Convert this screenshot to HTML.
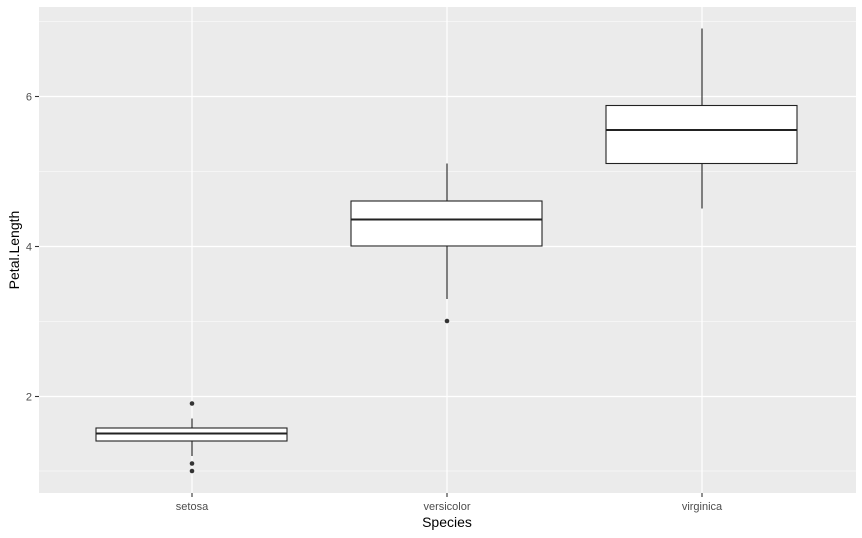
<!DOCTYPE html>
<html><head><style>body{margin:0;background:#fff}svg{display:block}</style></head><body>
<svg width="862" height="538" xmlns="http://www.w3.org/2000/svg" font-family="Liberation Sans, sans-serif">
<rect x="39" y="7" width="817" height="486" fill="#ebebeb"/>
<g stroke="#fff" stroke-width="0.6">
<line x1="39" x2="856" y1="471" y2="471"/><line x1="39" x2="856" y1="321.5" y2="321.5"/><line x1="39" x2="856" y1="171.5" y2="171.5"/><line x1="39" x2="856" y1="21.5" y2="21.5"/>
</g>
<g stroke="#fff" stroke-width="1.2">
<line x1="39" x2="856" y1="396.5" y2="396.5"/><line x1="39" x2="856" y1="246.5" y2="246.5"/><line x1="39" x2="856" y1="96.5" y2="96.5"/>
<line x1="192" x2="192" y1="7" y2="493"/><line x1="447" x2="447" y1="7" y2="493"/><line x1="702" x2="702" y1="7" y2="493"/>
</g>
<g stroke="#222" stroke-width="1.1" fill="#fff">
<line x1="192" x2="192" y1="418.5" y2="456"/>
<rect x="96" y="428" width="191" height="13"/>
<line x1="96" x2="287" y1="433.5" y2="433.5" stroke-width="2"/>
<line x1="447" x2="447" y1="163.5" y2="299"/>
<rect x="351" y="201" width="191" height="45"/>
<line x1="351" x2="542" y1="219.5" y2="219.5" stroke-width="2"/>
<line x1="702" x2="702" y1="28.5" y2="208.5"/>
<rect x="606" y="105.5" width="191" height="58"/>
<line x1="606" x2="797" y1="130" y2="130" stroke-width="2"/>
</g>
<g fill="#333"><circle cx="192" cy="403.5" r="2.3"/><circle cx="192" cy="463.5" r="2.3"/><circle cx="192" cy="471" r="2.3"/><circle cx="447" cy="321" r="2.3"/></g>
<g stroke="#333" stroke-width="1.1">
<line x1="35" x2="39" y1="396.5" y2="396.5"/><line x1="35" x2="39" y1="246.5" y2="246.5"/><line x1="35" x2="39" y1="96.5" y2="96.5"/>
<line x1="192" x2="192" y1="493" y2="497"/><line x1="447" x2="447" y1="493" y2="497"/><line x1="702" x2="702" y1="493" y2="497"/>
</g>
<g fill="#4d4d4d" font-size="11">
<text x="32" y="400.5" text-anchor="end">2</text><text x="32" y="250.5" text-anchor="end">4</text><text x="32" y="100.5" text-anchor="end">6</text>
<text x="192" y="510" text-anchor="middle">setosa</text><text x="447" y="510" text-anchor="middle">versicolor</text><text x="702" y="510" text-anchor="middle">virginica</text>
</g>
<text x="447" y="527" text-anchor="middle" font-size="14" fill="#000">Species</text>
<text transform="translate(19,250) rotate(-90)" text-anchor="middle" font-size="14" fill="#000">Petal.Length</text>
</svg>
</body></html>
